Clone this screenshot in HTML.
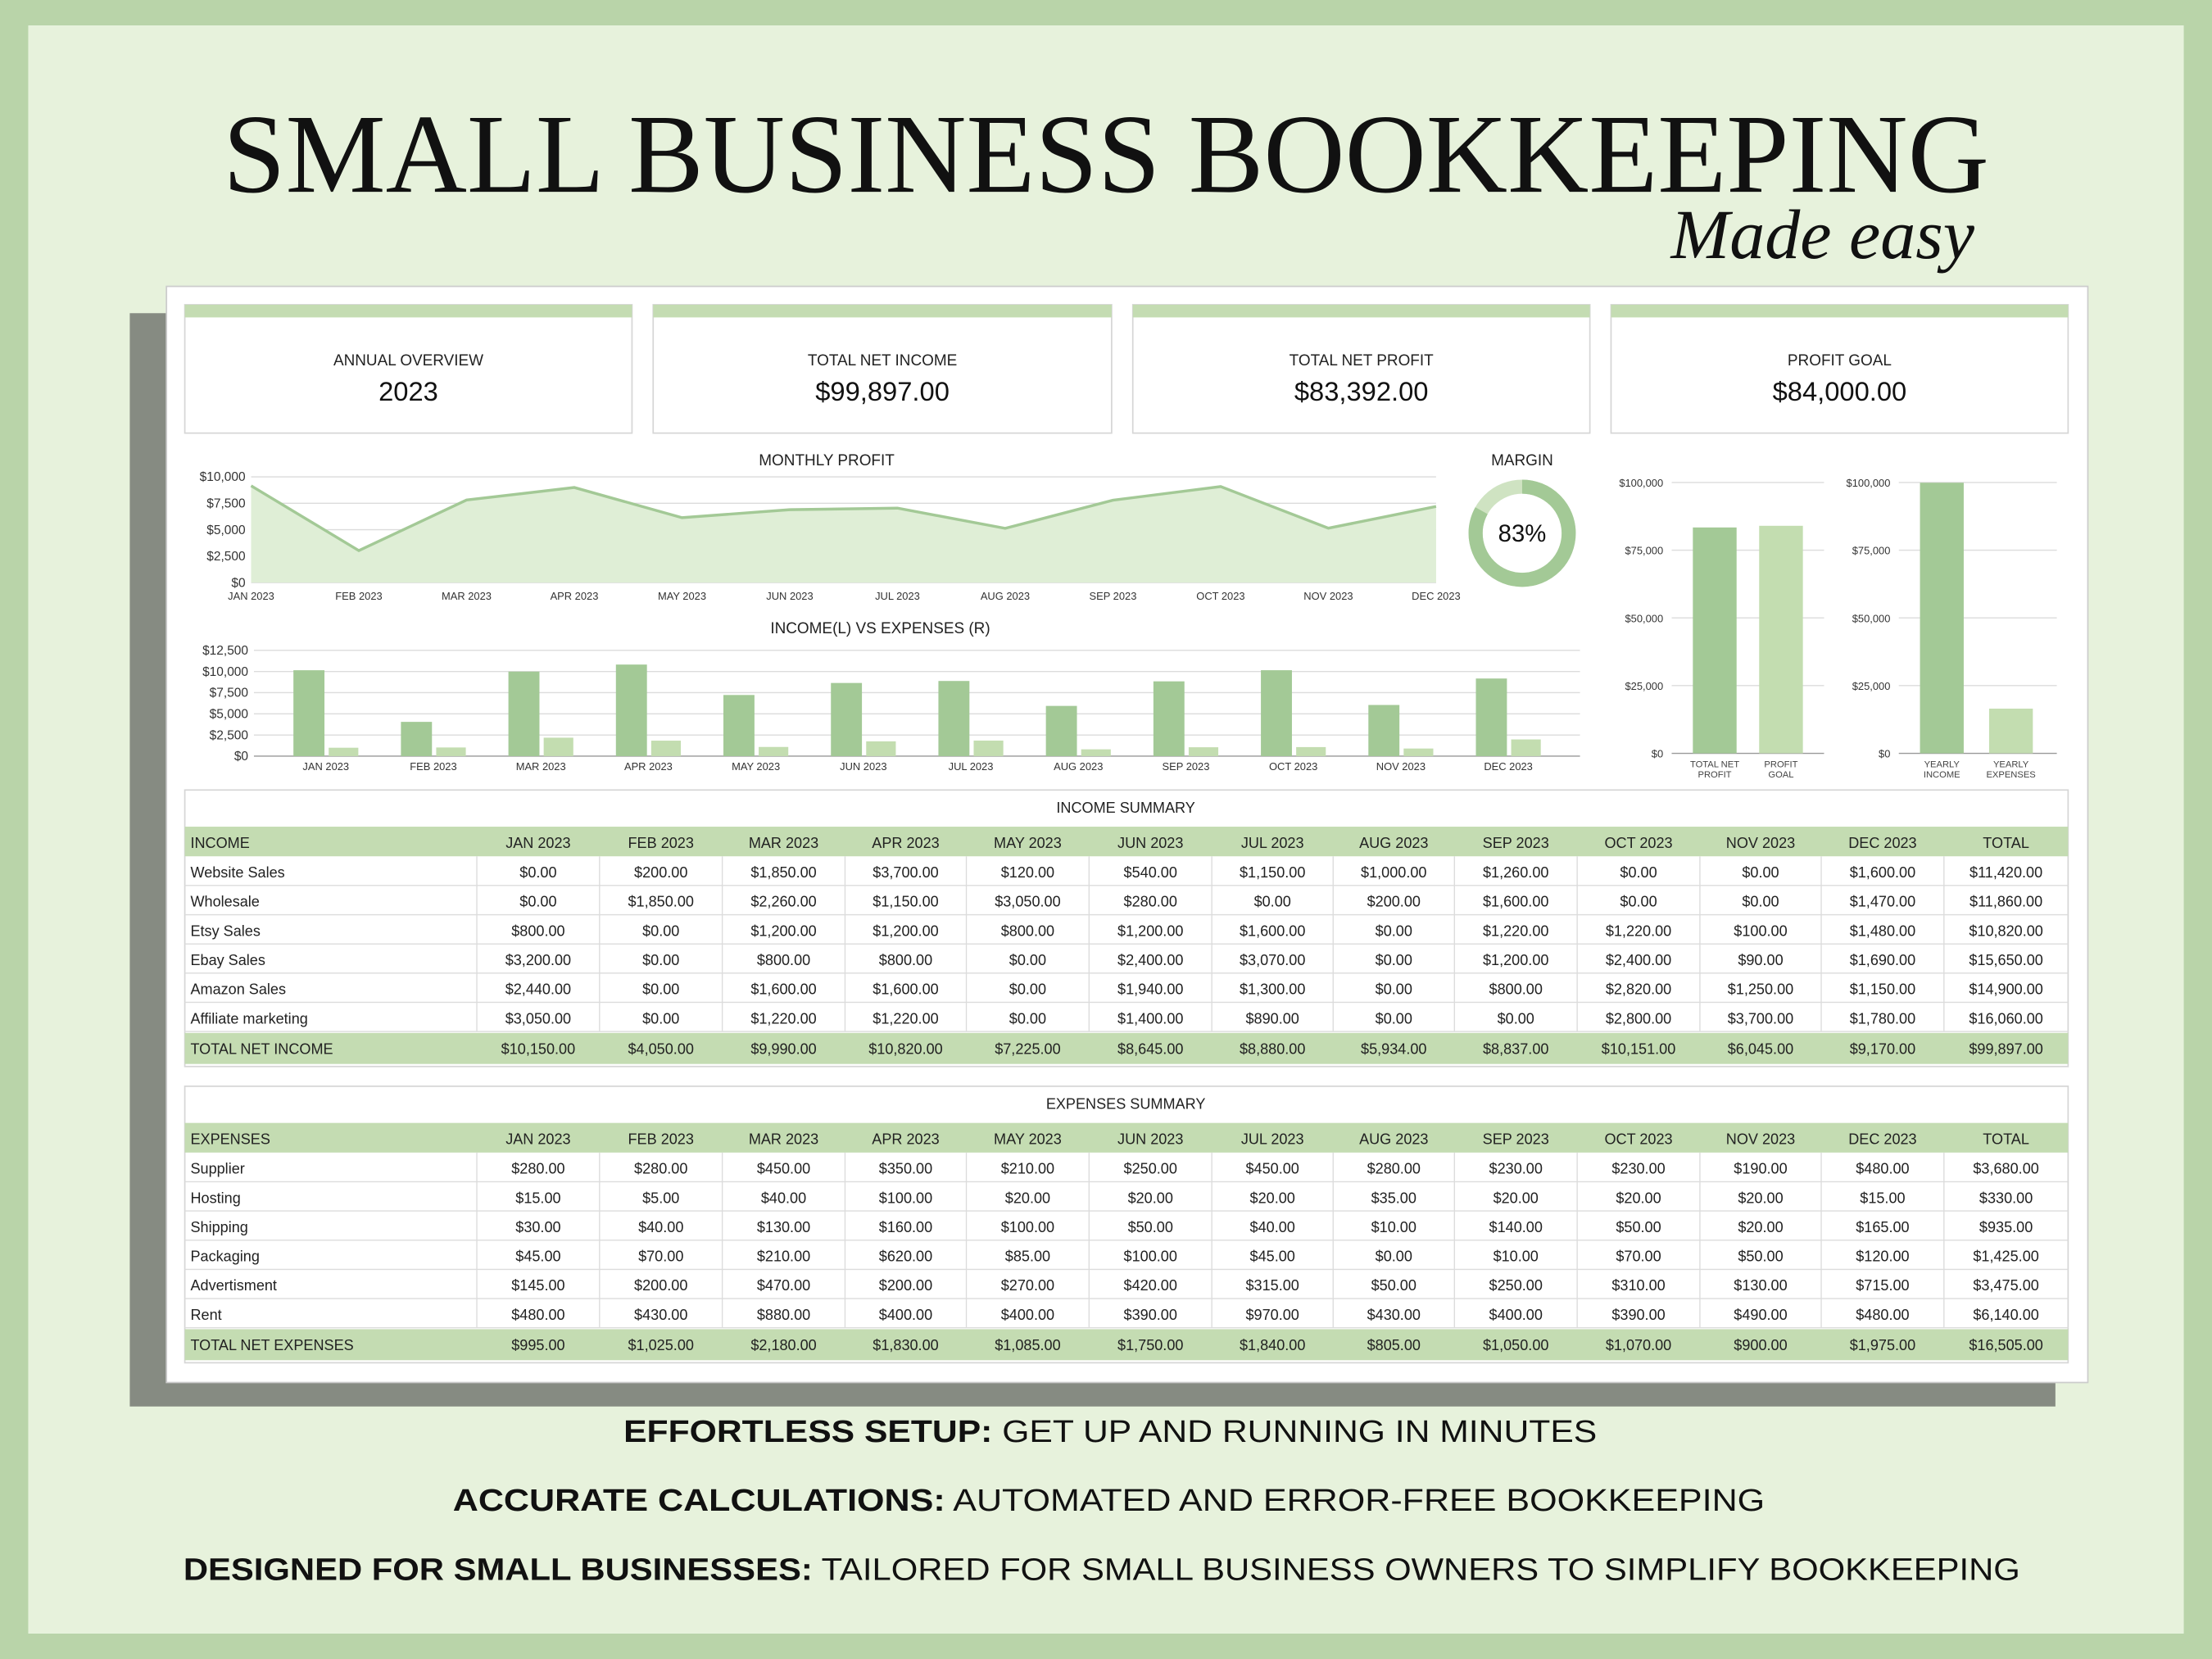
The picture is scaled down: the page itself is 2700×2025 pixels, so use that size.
<!DOCTYPE html>
<html><head><meta charset="utf-8"><style>
html,body{margin:0;padding:0;background:#b9d4a9;}
svg{display:block;}
text{font-family:"Liberation Sans",sans-serif;}
</style></head><body>
<svg id="s" width="2700" height="2025" viewBox="0 0 1568 1176" xmlns="http://www.w3.org/2000/svg">
<rect x="0" y="0" width="1568" height="1176" fill="#b9d4a9"/>
<rect x="20" y="18" width="1528" height="1140" fill="#e7f2dc"/>
<text x="784" y="136" text-anchor="middle" textLength="1252" lengthAdjust="spacingAndGlyphs" font-size="80" style="font-family:'Liberation Serif',serif" fill="#111">SMALL BUSINESS BOOKKEEPING</text>
<text x="1292" y="183" text-anchor="middle" font-size="50" font-style="italic" style="font-family:'Liberation Serif',serif" fill="#111">Made easy</text>
<rect x="92" y="222" width="1365" height="775" fill="#7b7f78" opacity="0.9"/>
<rect x="118" y="203" width="1362" height="777" fill="#fff" stroke="#ccc"/>
<g id="kpis"></g>
<g id="profit"></g>
<g id="margin"></g>
<g id="ie"></g>
<g id="right"></g>
<g id="tables"></g>
<text x="787" y="1022" text-anchor="middle" font-size="22" textLength="690" lengthAdjust="spacingAndGlyphs" fill="#111"><tspan font-weight="bold">EFFORTLESS SETUP:</tspan> GET UP AND RUNNING IN MINUTES</text>
<text x="786" y="1071" text-anchor="middle" font-size="22" textLength="930" lengthAdjust="spacingAndGlyphs" fill="#111"><tspan font-weight="bold">ACCURATE CALCULATIONS:</tspan> AUTOMATED AND ERROR-FREE BOOKKEEPING</text>
<text x="781" y="1120" text-anchor="middle" font-size="22" textLength="1302" lengthAdjust="spacingAndGlyphs" fill="#111"><tspan font-weight="bold">DESIGNED FOR SMALL BUSINESSES:</tspan> TAILORED FOR  SMALL BUSINESS OWNERS TO  SIMPLIFY BOOKKEEPING</text>
</svg>
<script>
const months=['JAN 2023','FEB 2023','MAR 2023','APR 2023','MAY 2023','JUN 2023','JUL 2023','AUG 2023','SEP 2023','OCT 2023','NOV 2023','DEC 2023'];
const profitValues=[9155,3025,7810,8990,6140,6895,7040,5129,7787,9081,5145,7195];
const profitTicks=[0,2500,5000,7500,10000];
const ieTicks=[0,2500,5000,7500,10000,12500];
const incomeLabels=['Website Sales','Wholesale','Etsy Sales','Ebay Sales','Amazon Sales','Affiliate marketing'];
const websiteSales=[0,200,1850,3700,120,540,1150,1000,1260,0,0,1600,11420];
const wholesale=[0,1850,2260,1150,3050,280,0,200,1600,0,0,1470,11860];
const etsySales=[800,0,1200,1200,800,1200,1600,0,1220,1220,100,1480,10820];
const ebaySales=[3200,0,800,800,0,2400,3070,0,1200,2400,90,1690,15650];
const amazonSales=[2440,0,1600,1600,0,1940,1300,0,800,2820,1250,1150,14900];
const affiliate=[3050,0,1220,1220,0,1400,890,0,0,2800,3700,1780,16060];
const incomeTotals=[10150,4050,9990,10820,7225,8645,8880,5934,8837,10151,6045,9170,99897];
const expenseLabels=['Supplier','Hosting','Shipping','Packaging','Advertisment','Rent'];
const supplier=[280,280,450,350,210,250,450,280,230,230,190,480,3680];
const hosting=[15,5,40,100,20,20,20,35,20,20,20,15,330];
const shipping=[30,40,130,160,100,50,40,10,140,50,20,165,935];
const packaging=[45,70,210,620,85,100,45,0,10,70,50,120,1425];
const advertisment=[145,200,470,200,270,420,315,50,250,310,130,715,3475];
const rent=[480,430,880,400,400,390,970,430,400,390,490,480,6140];
const expenseTotals=[995,1025,2180,1830,1085,1750,1840,805,1050,1070,900,1975,16505];
const kpiLabels=['ANNUAL OVERVIEW','TOTAL NET INCOME','TOTAL NET PROFIT','PROFIT GOAL'];
const kpiValues=['2023','$99,897.00','$83,392.00','$84,000.00'];
const marginPct=[83];
const goalCats=['TOTAL NET|PROFIT','PROFIT|GOAL'];
const goalValues=[83392,84000];
const yearCats=['YEARLY|INCOME','YEARLY|EXPENSES'];
const yearValues=[99897,16505];
const bigTicks=[0,25000,50000,75000,100000];

const NS='http://www.w3.org/2000/svg';
function E(tag,attrs,parent,txt){const e=document.createElementNS(NS,tag);for(const k in attrs)e.setAttribute(k,attrs[k]);if(txt!==undefined)e.textContent=txt;parent.appendChild(e);return e;}
const G=id=>document.getElementById(id);
const money=n=>'$'+n.toLocaleString('en-US',{minimumFractionDigits:2,maximumFractionDigits:2});
const axMoney=n=>'$'+n.toLocaleString('en-US');
const DARK='#a3c996',LIGHT='#c3ddb0',HEAD='#c4dcb2',GRID='#dcdcdc';

// KPIs
const kx=[131,463,803,1142],kw=[317,325,324,324];
kpiLabels.forEach((l,i)=>{
  const g=G('kpis');
  let r=E('rect',{x:kx[i],y:216,width:kw[i],height:91,fill:'#fff',stroke:'#d6d6d6'},g);
  
  
  let b=E('rect',{x:kx[i],y:216,width:kw[i],height:9,fill:HEAD},g);
  
  
  let t=E('text',{x:kx[i]+kw[i]/2,y:259,'text-anchor':'middle','font-size':11,fill:'#222'},g,l);
  
  
  let v=E('text',{x:kx[i]+kw[i]/2,y:284,'text-anchor':'middle','font-size':19,fill:'#111'},g,kpiValues[i]);
  
  
});

// Monthly profit
(function(){
  const g=G('profit');
  const x0=178,x1=1018,y0=413,y1=338,max=10000;
  const X=i=>x0+(x1-x0)*i/11, Y=v=>y0-(y0-y1)*v/max;
  let t=E('text',{x:586,y:330,'text-anchor':'middle','font-size':11,fill:'#222'},g,'MONTHLY PROFIT');
  
  
  profitTicks.forEach(v=>{
    let l=E('line',{x1:x0,x2:x1,y1:Y(v),y2:Y(v),stroke:GRID,'stroke-width':0.8},g);
    
    
    let tx=E('text',{x:174,y:Y(v)+3,'text-anchor':'end','font-size':9,fill:'#333'},g,axMoney(v));
    
    
  });
  let pts=profitValues.map((v,i)=>X(i)+','+Y(v)).join(' ');
  let a=E('polygon',{points:X(0)+','+y0+' '+pts+' '+X(11)+','+y0,fill:'#dfeed6'},g);
  
  
  let p=E('polyline',{points:pts,fill:'none',stroke:DARK,'stroke-width':2},g);
  
  
  months.forEach((m,i)=>{
    let tx=E('text',{x:X(i),y:425,'text-anchor':'middle','font-size':7.5,fill:'#333'},g,m);
    
    
  });
})();

// Margin donut
(function(){
  const g=G('margin'),cx=1079,cy=378,r=33,c=2*Math.PI*r;
  let t=E('text',{x:cx,y:330,'text-anchor':'middle','font-size':11,fill:'#222'},g,'MARGIN');
  
  
  let bg=E('circle',{cx,cy,r,fill:'none',stroke:'#cfe3c2','stroke-width':10},g);
  
  
  let arc=E('circle',{cx,cy,r,fill:'none',stroke:DARK,'stroke-width':10,'stroke-dasharray':(c*marginPct[0]/100)+' '+c,transform:`rotate(-90 ${cx} ${cy})`},g);
  
  
  let v=E('text',{x:cx,y:cy+6,'text-anchor':'middle','font-size':17,fill:'#111'},g,marginPct[0]+'%');
  
  
})();

// Income vs expenses
(function(){
  const g=G('ie');
  const y0=536,y1=461,max=12500,x0=193,step=76.2;
  const Y=v=>y0-(y0-y1)*v/max, C=i=>x0+38+step*i;
  let t=E('text',{x:624,y:449,'text-anchor':'middle','font-size':11,fill:'#222'},g,'INCOME(L) VS EXPENSES (R)');
  
  
  ieTicks.forEach(v=>{
    let l=E('line',{x1:180,x2:1120,y1:Y(v),y2:Y(v),stroke:v?GRID:'#999','stroke-width':0.8},g);
    
    
    let tx=E('text',{x:176,y:Y(v)+3,'text-anchor':'end','font-size':9,fill:'#333'},g,axMoney(v));
    
    
  });
  months.forEach((m,i)=>{
    const inc=incomeTotals[i],exp=expenseTotals[i];
    let b=E('rect',{x:C(i)-23,y:Y(inc),width:22,height:y0-Y(inc),fill:DARK},g);
    
    
    let e=E('rect',{x:C(i)+2,y:Y(exp),width:21,height:y0-Y(exp),fill:LIGHT},g);
    
    
    let tx=E('text',{x:C(i),y:546,'text-anchor':'middle','font-size':7.5,fill:'#333'},g,m);
    
    
  });
})();

// Right bar charts
function barChart(labelX,gx0,gx1,bars,cats,vals,nm){
  const g=G('right'),y0=534,y1=342,max=100000,Y=v=>y0-(y0-y1)*v/max;
  bigTicks.forEach(v=>{
    let l=E('line',{x1:gx0,x2:gx1,y1:Y(v),y2:Y(v),stroke:v?GRID:'#999','stroke-width':0.8},g);
    
    
    let tx=E('text',{x:labelX,y:Y(v)+3,'text-anchor':'end','font-size':7.5,fill:'#333'},g,axMoney(v));
    
    
  });
  vals.forEach((v,i)=>{
    let b=E('rect',{x:bars[i],y:Y(v),width:31,height:y0-Y(v),fill:i?LIGHT:DARK},g);
    
    
    cats[i].split('|').forEach((s,j)=>{
      let tx=E('text',{x:bars[i]+15.5,y:544+j*7,'text-anchor':'middle','font-size':6.5,fill:'#444'},g,s);
      
      
    });
  });
}
barChart(1179,1185,1293,[1200,1247],goalCats,goalValues,'profit-goal');
barChart(1340,1346,1458,[1361,1410],yearCats,yearValues,'yearly');

// Tables
const colB=[131,338,425,512,599,685,772,859,945,1031,1118,1205,1291,1378,1466];
function table(top,title,headLabel,labels,rows,totals,totalLabel,nm){
  const g=G('tables');
  let f=E('rect',{x:131,y:top,width:1335,height:196,fill:'#fff',stroke:'#d6d6d6'},g);
  
  
  let t=E('text',{x:798,y:top+16,'text-anchor':'middle','font-size':10.5,fill:'#222'},g,title);
  
  
  const hy=top+26;
  let h=E('rect',{x:131,y:hy,width:1335,height:21,fill:HEAD},g);
  
  
  const cells=[headLabel].concat(months,['TOTAL']);
  cells.forEach((c,i)=>{
    const x=i?(colB[i]+colB[i+1])/2:135;
    let tx=E('text',{x,y:hy+15,'text-anchor':i?'middle':'start','font-size':10.5,fill:'#222'},g,c);
    
    
  });
  const rh=20.7;
  rows.forEach((r,ri)=>{
    const ry=hy+21+ri*rh;
    let l=E('line',{x1:131,x2:1466,y1:ry+rh,y2:ry+rh,stroke:GRID,'stroke-width':0.8},g);
    
    
    let lb=E('text',{x:135,y:ry+15,'font-size':10.5,fill:'#222'},g,labels[ri]);
    
    
    r.forEach((v,ci)=>{
      let tx=E('text',{x:(colB[ci+1]+colB[ci+2])/2,y:ry+15,'text-anchor':'middle','font-size':10.5,fill:'#222'},g,money(v));
      
      
    });
  });
  colB.slice(1,-1).forEach(x=>{
    let l=E('line',{x1:x,x2:x,y1:hy+21,y2:hy+21+rows.length*rh,stroke:GRID,'stroke-width':0.8},g);
    
    
  });
  const ty=hy+21+rows.length*rh+1;
  let tr=E('rect',{x:131,y:ty,width:1335,height:22,fill:HEAD},g);
  
  
  let tl=E('text',{x:135,y:ty+15,'font-size':10.5,fill:'#222'},g,totalLabel);
  
  
  totals.forEach((v,ci)=>{
    let tx=E('text',{x:(colB[ci+1]+colB[ci+2])/2,y:ty+15,'text-anchor':'middle','font-size':10.5,fill:'#222'},g,money(v));
    
    
  });
}
table(560,'INCOME SUMMARY','INCOME',incomeLabels,[websiteSales,wholesale,etsySales,ebaySales,amazonSales,affiliate],incomeTotals,'TOTAL NET INCOME','income');
table(770,'EXPENSES SUMMARY','EXPENSES',expenseLabels,[supplier,hosting,shipping,packaging,advertisment,rent],expenseTotals,'TOTAL NET EXPENSES','expenses');
</script>
</body></html>
